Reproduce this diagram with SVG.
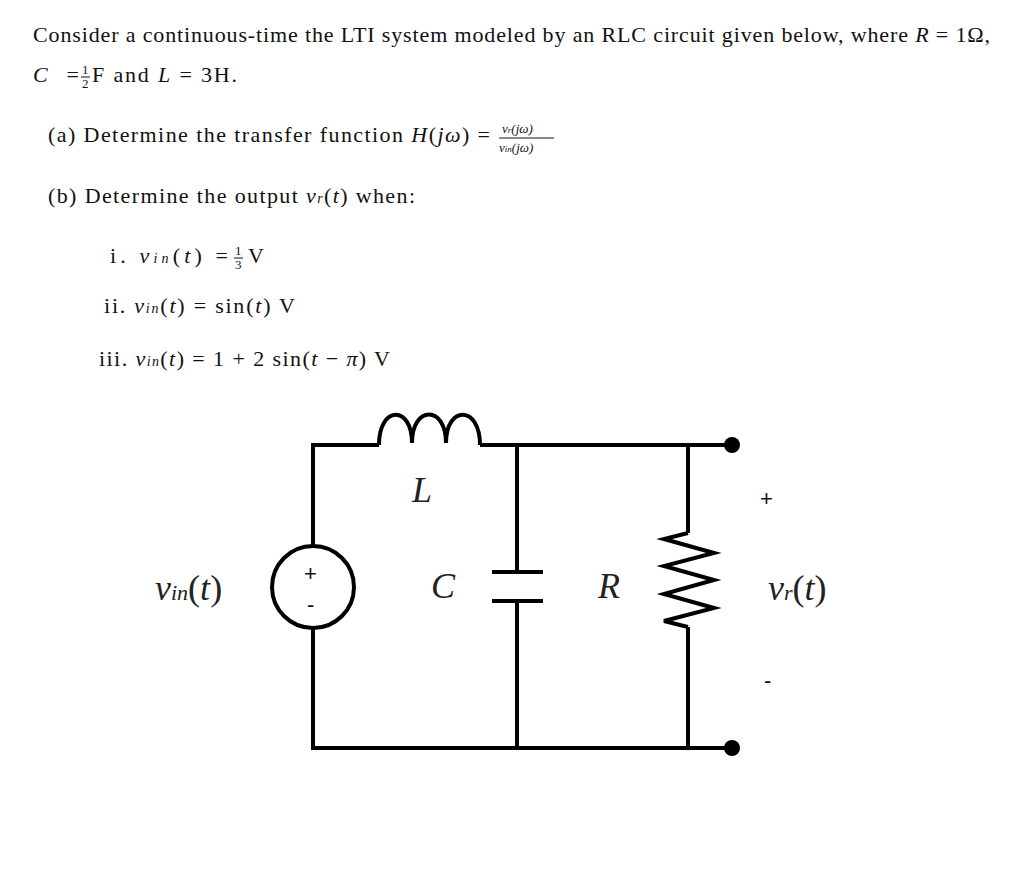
<svg xmlns="http://www.w3.org/2000/svg" width="1024" height="894" viewBox="0 0 1024 894">
<style>
.t{font-family:"Liberation Serif",serif;font-size:22px;fill:#111}
.i{font-style:italic}
.s{font-size:13px}
.w{stroke:#000;stroke-width:4;fill:none}
.lb{font-family:"Liberation Serif",serif;font-style:italic;font-size:36px;fill:#222}
</style>
<rect width="1024" height="894" fill="#fff"/>
<g id="text">
<text class="t" x="33" y="42" textLength="957" lengthAdjust="spacing">Consider a continuous-time the LTI system modeled by an RLC circuit given below, where <tspan class="i">R</tspan> = 1Ω,</text>
<text class="t" x="33" y="82" textLength="46" lengthAdjust="spacing"><tspan class="i">C</tspan> = </text>
<text class="t s" x="82" y="74">1</text><line x1="81" y1="77" x2="90" y2="77" stroke="#111" stroke-width="1"/><text class="t s" x="82" y="88">2</text>
<text class="t" x="92" y="82" textLength="145" lengthAdjust="spacing">F and <tspan class="i">L</tspan> = 3H.</text>
<text class="t" x="48" y="142" textLength="442" lengthAdjust="spacing">(a) Determine the transfer function <tspan class="i">H</tspan>(<tspan class="i">jω</tspan>) =</text>
<text class="t s i" x="502" y="133">v<tspan font-size="9">r</tspan>(jω)</text>
<line x1="499" y1="138" x2="554" y2="138" stroke="#111" stroke-width="1"/>
<text class="t s i" x="499" y="152">v<tspan font-size="9">in</tspan>(jω)</text>
<text class="t" x="48" y="203" textLength="367" lengthAdjust="spacing">(b) Determine the output <tspan class="i">v<tspan font-size="14">r</tspan></tspan>(<tspan class="i">t</tspan>) when:</text>
<text class="t" x="110" y="263" textLength="118" lengthAdjust="spacing">i. <tspan class="i">v<tspan font-size="14">in</tspan></tspan>(<tspan class="i">t</tspan>) =</text>
<text class="t s" x="235" y="255">1</text><line x1="234" y1="258" x2="243" y2="258" stroke="#111" stroke-width="1"/><text class="t s" x="235" y="269">3</text>
<text class="t" x="248" y="263">V</text>
<text class="t" x="104" y="313" textLength="191" lengthAdjust="spacing">ii. <tspan class="i">v<tspan font-size="14">in</tspan></tspan>(<tspan class="i">t</tspan>) = sin(<tspan class="i">t</tspan>) V</text>
<text class="t" x="99" y="366" textLength="291" lengthAdjust="spacing">iii. <tspan class="i">v<tspan font-size="14">in</tspan></tspan>(<tspan class="i">t</tspan>) = 1 + 2 sin(<tspan class="i">t</tspan> − <tspan class="i">π</tspan>) V</text>
</g>
<g id="connectors">
<polyline class="w" points="313,546 313,445 379,445"/>
<polyline class="w" points="480,445 732,445"/>
<polyline class="w" points="313,629 313,748 732,748"/>
<line class="w" x1="517" y1="445" x2="517" y2="572"/>
<line class="w" x1="517" y1="601" x2="517" y2="748"/>
<line class="w" x1="688" y1="445" x2="688" y2="533"/>
<line class="w" x1="688" y1="627" x2="688" y2="748"/>
</g>
<g id="inductor">
<path class="w" d="M379,445 C379,405 412,405 412,443 C412,405 446,405 446,443 C446,405 480,405 480,445"/>
<text class="lb" x="412" y="502">L</text>
</g>
<g id="capacitor">
<line class="w" x1="492" y1="572" x2="543" y2="572"/>
<line class="w" x1="492" y1="601" x2="543" y2="601"/>
<text class="lb" x="431" y="598">C</text>
</g>
<g id="resistor">
<polyline class="w" points="688,533 664,539 714,553 664,566 714,580 664,594 714,608 664,621 688,627"/>
<text class="lb" x="598" y="598">R</text>
</g>
<g id="source">
<circle class="w" cx="313" cy="587" r="41"/>
<text x="304" y="581" font-family="Liberation Sans,sans-serif" font-size="22" fill="#111">+</text>
<text x="307" y="612" font-family="Liberation Sans,sans-serif" font-size="22" fill="#111">-</text>
<text class="lb" x="155" y="600">v<tspan font-size="22">in</tspan><tspan font-style="normal">(</tspan>t<tspan font-style="normal">)</tspan></text>
</g>
<g id="terminals">
<circle cx="732" cy="445" r="8" fill="#000"/>
<circle cx="732" cy="748" r="8" fill="#000"/>
<text x="760" y="506" font-family="Liberation Sans,sans-serif" font-size="22" fill="#111">+</text>
<text x="764" y="688" font-family="Liberation Sans,sans-serif" font-size="22" fill="#111">-</text>
<text class="lb" x="768" y="600">v<tspan font-size="22">r</tspan><tspan font-style="normal">(</tspan>t<tspan font-style="normal">)</tspan></text>
</g>
</svg>
